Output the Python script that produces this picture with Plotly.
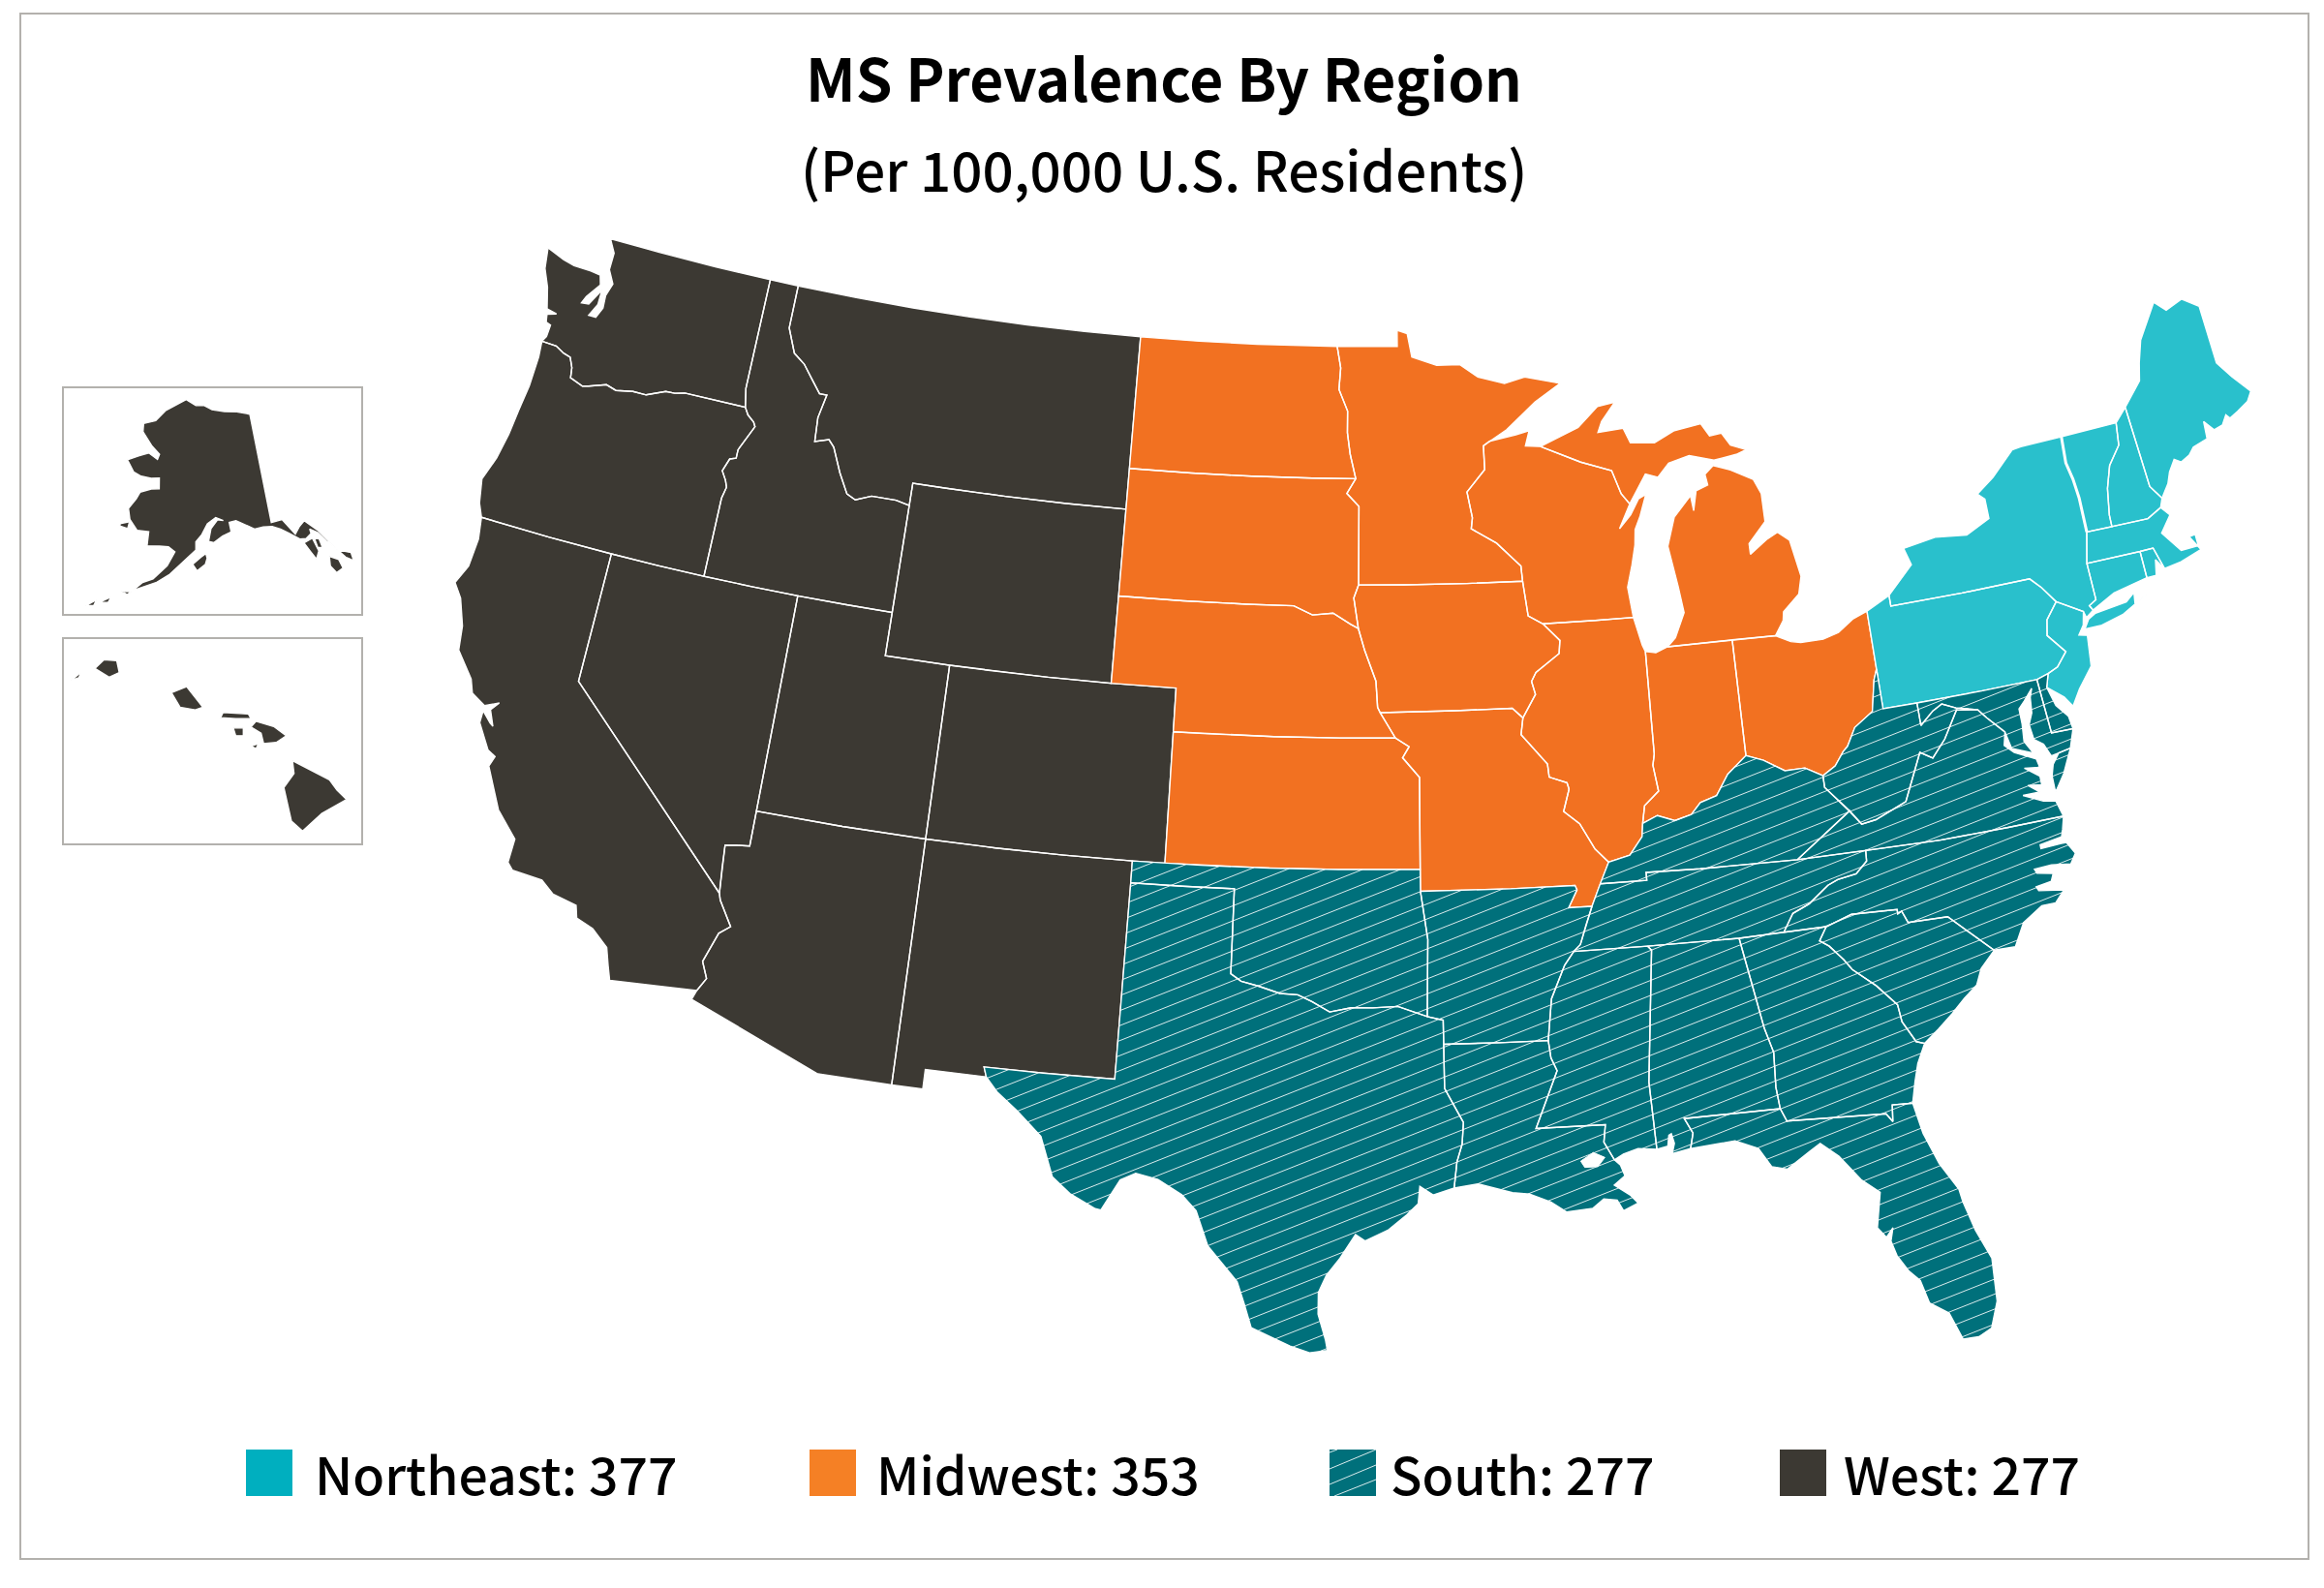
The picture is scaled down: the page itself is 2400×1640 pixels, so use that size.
import numpy as np
import plotly.graph_objects as go

# state outlines are kept as shared borders (lon, lat), so neighbours line up
def r(arc):
    return arc[::-1]

COAST_WA = [(-124.0,46.27),(-123.9,46.4),(-123.88,46.68),(-124.05,46.72),(-124.1,46.9),(-123.8,46.97),(-124.15,47.02),(-124.35,47.5),(-124.62,47.9),(-124.73,48.38),(-124.1,48.22),(-123.7,48.16),(-123.1,48.15),(-122.75,48.12),(-122.65,47.9),(-123.0,47.55),(-123.1,47.38),(-122.85,47.4),(-122.55,47.8),(-122.55,47.45),(-122.75,47.15),(-122.5,47.15),(-122.35,47.4),(-122.38,47.7),(-122.25,48.0),(-122.5,48.3),(-122.5,48.7),(-122.76,49.0)]
N49_WA = [(-122.76,49.0),(-121,49),(-119,49),(-117.04,49)]
WA_ID = [(-117.04,49),(-117.04,47.5),(-117.04,46.42),(-116.92,45.99)]
WA_OR = [(-116.92,45.99),(-118.98,45.99),(-119.3,45.93),(-119.6,45.92),(-120.2,45.73),(-120.65,45.73),(-121.2,45.65),(-121.55,45.72),(-122.1,45.58),(-122.3,45.54),(-122.75,45.65),(-122.8,45.88),(-122.95,46.1),(-123.2,46.15),(-123.5,46.26),(-124.0,46.27)]
COAST_OR = [(-124.0,46.27),(-123.95,45.9),(-123.97,45.2),(-124.07,44.6),(-124.15,44.0),(-124.3,43.4),(-124.55,42.84),(-124.4,42.3),(-124.21,42.0)]
OR_CA = [(-124.21,42),(-122,42),(-120,42)]
OR_NV = [(-120,42),(-118.5,42),(-117.03,42)]
OR_ID = [(-117.03,42),(-117.03,43.83),(-116.95,44.1),(-117.03,44.25),(-117.2,44.45),(-117.05,44.75),(-116.85,44.8),(-116.85,45.0),(-116.67,45.3),(-116.47,45.6),(-116.55,45.7),(-116.78,45.83),(-116.92,45.99)]
CA_NV = [(-120,42),(-120,39),(-114.63,35)]
CA_AZ = [(-114.63,35),(-114.57,34.85),(-114.14,34.3),(-114.43,34.1),(-114.72,33.4),(-114.52,33.03),(-114.72,32.72)]
CA_MEX = [(-114.72,32.72),(-117.12,32.53)]
COAST_CA = [(-117.12,32.53),(-117.25,32.85),(-117.4,33.25),(-117.9,33.6),(-118.4,33.75),(-118.5,34.03),(-119.2,34.15),(-119.6,34.4),(-120.47,34.45),(-120.65,34.6),(-120.63,35.15),(-121.3,35.7),(-121.9,36.6),(-121.8,36.85),(-122.05,36.95),(-122.5,37.5),(-122.5,37.78),(-122.2,37.55),(-122.1,37.5),(-122.3,37.85),(-122.1,38.05),(-122.5,37.9),(-122.95,38.1),(-123.1,38.4),(-123.7,38.95),(-123.8,39.5),(-124.1,40.1),(-124.4,40.4),(-124.15,40.85),(-124.1,41.5),(-124.21,42.0)]
NV_ID = [(-117.03,42),(-115.5,42),(-114.04,42)]
NV_UT = [(-114.04,42),(-114.04,39.5),(-114.04,37)]
NV_AZ = [(-114.04,37),(-114.04,36.19),(-114.4,36.15),(-114.74,36.1),(-114.7,35.6),(-114.63,35)]
UT_AZ = [(-114.04,37),(-111.5,37),(-109.05,37)]
AZ_NM = [(-109.05,37),(-109.05,34),(-109.05,31.33)]
AZ_MEX = [(-109.05,31.33),(-111.07,31.33),(-114.81,32.5),(-114.72,32.72)]
UT_ID = [(-114.04,42),(-112.5,42),(-111.05,42)]
UT_WY = [(-111.05,42),(-111.05,41),(-109.05,41)]
UT_CO = [(-109.05,41),(-109.05,37)]
ID_N = [(-117.04,49),(-116.05,49)]
ID_MT = [(-116.05,49),(-116.05,48.0),(-115.7,47.45),(-115.3,47.25),(-114.95,46.95),(-114.6,46.65),(-114.35,46.65),(-114.5,46.1),(-114.45,45.55),(-114.0,45.65),(-113.8,45.5),(-113.45,44.95),(-113.1,44.5),(-112.8,44.4),(-112.3,44.55),(-111.5,44.55),(-111.05,44.48)]
ID_WY = [(-111.05,44.48),(-111.05,42)]
N49_MT = [(-116.05,49),(-114,49),(-112,49),(-110,49),(-108,49),(-106,49),(-104.05,49)]
MT_ND = [(-104.05,49),(-104.05,45.94)]
MT_SD = [(-104.05,45.94),(-104.05,45)]
MT_WY = [(-104.05,45),(-106,45),(-108,45),(-110,45),(-111.05,45),(-111.05,44.48)]
WY_SD = [(-104.05,45),(-104.05,43)]
WY_NE = [(-104.05,43),(-104.05,41)]
WY_CO = [(-104.05,41),(-106,41),(-108,41),(-109.05,41)]
CO_NE = [(-104.05,41),(-102.05,41),(-102.05,40)]
CO_KS = [(-102.05,40),(-102.05,37)]
CO_OK = [(-102.05,37),(-103,37)]
CO_NM = [(-103,37),(-105,37),(-107,37),(-109.05,37)]
NM_OK = [(-103,37),(-103,36.5)]
NM_TX = [(-103,36.5),(-103.04,32),(-105,32),(-106.62,32),(-106.53,31.78)]
NM_MEX = [(-106.53,31.78),(-108.2,31.78),(-108.2,31.33),(-109.05,31.33)]
N49_ND = [(-104.05,49),(-102,49),(-100,49),(-98,49),(-97.23,49)]
ND_MN = [(-97.23,49),(-97.1,48.5),(-97.15,48.0),(-96.85,47.5),(-96.85,47.0),(-96.75,46.5),(-96.56,45.94)]
ND_SD = [(-96.56,45.94),(-98,45.94),(-100,45.94),(-102,45.94),(-104.05,45.94)]
SD_MN = [(-96.56,45.94),(-96.85,45.6),(-96.45,45.3),(-96.45,43.5)]
SD_IA = [(-96.45,43.5),(-96.6,43.2),(-96.45,42.5)]
SD_NE = [(-96.45,42.5),(-96.7,42.6),(-97.25,42.85),(-97.9,42.8),(-98.5,43),(-100,43),(-102,43),(-104.05,43)]
NE_IA = [(-96.45,42.5),(-96.25,42.0),(-96.1,41.7),(-95.9,41.3),(-95.85,40.7),(-95.77,40.58)]
NE_MO = [(-95.77,40.58),(-95.31,40)]
NE_KS = [(-95.31,40),(-97,40),(-99,40),(-101,40),(-102.05,40)]
KS_MO = [(-95.31,40),(-94.9,39.8),(-95.1,39.55),(-94.6,39.1),(-94.62,37)]
KS_OK = [(-94.62,37),(-97,37),(-99,37),(-101,37),(-102.05,37)]
OK_MO = [(-94.62,37),(-94.62,36.5)]
OK_AR = [(-94.62,36.5),(-94.43,35.4),(-94.48,33.64)]
OK_TX = [(-94.48,33.64),(-95.3,33.88),(-96.0,33.85),(-96.6,33.85),(-97.2,33.75),(-97.7,33.98),(-98.1,34.13),(-98.6,34.15),(-99.2,34.3),(-99.7,34.4),(-100,34.56),(-100,36.5),(-101.5,36.5),(-103,36.5)]
TX_AR = [(-94.48,33.64),(-94.04,33.55),(-94.04,33)]
TX_LA = [(-94.04,33),(-94.04,31.99),(-93.8,31.6),(-93.55,31.2),(-93.6,30.7),(-93.75,30.3),(-93.84,29.7)]
COAST_TX = [(-93.84,29.7),(-94.4,29.55),(-94.75,29.75),(-94.8,29.35),(-95.1,29.1),(-95.6,28.75),(-96.2,28.5),(-96.45,28.65),(-96.85,28.1),(-97.2,27.7),(-97.4,27.3),(-97.4,26.8),(-97.2,26.2),(-97.15,25.96)]
TX_MEX = [(-97.15,25.96),(-97.6,25.9),(-98.1,26.05),(-98.6,26.25),(-99.1,26.45),(-99.3,27.0),(-99.5,27.5),(-100.3,28.3),(-100.65,29.1),(-101.05,29.45),(-101.7,29.77),(-102.3,29.88),(-102.7,29.7),(-103.15,28.98),(-103.3,29.0),(-104.0,29.3),(-104.5,29.65),(-104.9,30.55),(-105.6,31.08),(-106.2,31.47),(-106.53,31.78)]
N_MN = [(-97.23,49),(-95.15,49),(-95.15,49.38),(-94.8,49.3),(-94.65,48.75),(-93.8,48.55),(-93.0,48.55),(-92.4,48.25),(-91.5,48.07),(-90.8,48.2),(-89.6,48.0),(-90.5,47.6),(-91.5,47.0),(-92.1,46.75)]
MN_WI = [(-92.1,46.75),(-92.3,46.65),(-92.29,46.1),(-92.9,45.6),(-92.75,45.0),(-92.8,44.75),(-92.0,44.4),(-91.25,43.85),(-91.22,43.5)]
MN_IA = [(-91.22,43.5),(-93,43.5),(-95,43.5),(-96.45,43.5)]
IA_WI = [(-91.22,43.5),(-91.1,42.7),(-90.65,42.5)]
IA_IL = [(-90.65,42.5),(-90.15,42.1),(-90.2,41.8),(-90.95,41.4),(-91.1,41.2),(-91.0,40.9),(-91.42,40.38)]
IA_MO = [(-91.42,40.38),(-91.73,40.61),(-93.5,40.6),(-95.77,40.58)]
MO_IL = [(-91.42,40.38),(-91.5,40.0),(-90.75,39.3),(-90.72,39.0),(-90.2,38.85),(-90.15,38.7),(-90.35,38.2),(-89.9,37.9),(-89.5,37.3),(-89.13,36.98)]
MO_KY = [(-89.13,36.98),(-89.42,36.5)]
MO_TN = [(-89.42,36.5),(-89.7,36.0)]
MO_AR = [(-89.7,36.0),(-90.37,36.0),(-90.1,36.4),(-90.15,36.5),(-92,36.5),(-94.62,36.5)]
AR_TN = [(-89.7,36.0),(-89.9,35.6),(-90.1,35.15),(-90.3,35.0)]
AR_MS = [(-90.3,35.0),(-90.58,34.7),(-91.0,33.95),(-91.15,33.0)]
AR_LA = [(-91.15,33.0),(-92.5,33.0),(-94.04,33.0)]
LA_MS = [(-91.15,33.0),(-91.1,32.6),(-90.95,32.3),(-91.2,31.8),(-91.6,31.0),(-89.73,31.0),(-89.8,30.6),(-89.55,30.18)]
COAST_LA = [(-89.55,30.18),(-89.4,30.05),(-89.3,29.8),(-89.6,29.6),(-89.2,29.35),(-89.0,29.15),(-89.4,29.0),(-89.55,29.25),(-89.9,29.3),(-90.2,29.1),(-90.9,29.05),(-91.3,29.3),(-91.85,29.5),(-92.3,29.55),(-93.2,29.78),(-93.84,29.7)]
TN_MS = [(-90.3,35),(-88.2,35)]
MS_AL = [(-88.2,35),(-88.1,34.9),(-88.47,31.9),(-88.4,30.35)]
COAST_MS = [(-88.4,30.35),(-88.9,30.4),(-89.3,30.3),(-89.55,30.18)]
TN_AL = [(-88.2,35),(-85.6,34.98)]
AL_GA = [(-85.6,34.98),(-85.18,32.87),(-85.0,32.3),(-85.05,31.5),(-85.0,31.0)]
AL_FL = [(-85.0,31.0),(-87.6,31.0),(-87.4,30.65),(-87.5,30.3)]
COAST_AL = [(-87.5,30.3),(-88.0,30.22),(-87.92,30.45),(-87.98,30.68),(-88.05,30.65),(-88.1,30.4),(-88.4,30.35)]
TN_GA = [(-85.6,34.98),(-84.32,35)]
GA_NC = [(-84.32,35),(-83.11,35)]
GA_SC = [(-83.11,35),(-83.35,34.7),(-83.1,34.55),(-82.75,34.2),(-82.55,33.95),(-81.95,33.5),(-81.45,33.0),(-81.4,32.6),(-81.1,32.1),(-80.88,32.03)]
COAST_GA = [(-80.88,32.03),(-81.15,31.6),(-81.3,31.2),(-81.45,30.72)]
GA_FL = [(-81.45,30.72),(-82.0,30.75),(-82.05,30.37),(-82.2,30.57),(-84.86,30.7),(-85.0,31.0)]
COAST_FL = [(-81.45,30.72),(-81.3,30.0),(-81.0,29.25),(-80.6,28.6),(-80.55,28.3),(-80.35,27.6),(-80.05,26.9),(-80.1,25.9),(-80.35,25.3),(-80.7,25.15),(-81.1,25.15),(-81.35,25.8),(-81.8,26.1),(-81.95,26.65),(-82.2,26.9),(-82.45,27.3),(-82.55,27.65),(-82.45,27.95),(-82.65,27.75),(-82.85,28.0),(-82.65,28.8),(-83.1,29.15),(-83.6,29.75),(-84.05,30.1),(-84.35,29.95),(-85.0,29.6),(-85.4,29.7),(-85.7,30.15),(-86.3,30.38),(-87.2,30.33),(-87.5,30.3)]
NC_SC = [(-83.11,35),(-82.35,35.2),(-81.05,35.15),(-81.05,35.05),(-80.93,35.1),(-80.8,34.82),(-79.67,34.8),(-78.55,33.86)]
COAST_SC = [(-78.55,33.86),(-79.0,33.5),(-79.2,33.15),(-79.6,32.9),(-80.0,32.6),(-80.45,32.3),(-80.88,32.03)]
TN_NC = [(-84.32,35),(-84.0,35.4),(-83.5,35.57),(-82.9,35.93),(-82.6,36.03),(-82.05,36.1),(-81.7,36.35),(-81.68,36.59)]
NC_VA = [(-81.68,36.59),(-79.5,36.55),(-77.5,36.55),(-75.87,36.55)]
COAST_NC = [(-75.87,36.55),(-75.98,36.25),(-76.05,36.1),(-76.7,36.02),(-76.7,35.93),(-76.1,35.95),(-75.95,35.95),(-75.76,35.67),(-75.95,35.45),(-76.5,35.52),(-77.0,35.5),(-76.95,35.4),(-76.5,35.32),(-76.6,35.15),(-77.05,35.1),(-77.0,35.0),(-76.6,34.95),(-76.3,34.9),(-76.6,34.65),(-77.0,34.65),(-77.6,34.35),(-77.95,33.85),(-78.55,33.86)]
KY_TN = [(-89.42,36.5),(-88.07,36.5),(-88.07,36.68),(-86.5,36.65),(-83.68,36.6)]
TN_VA = [(-83.68,36.6),(-81.68,36.59)]
KY_IL = [(-89.13,36.98),(-88.5,37.1),(-88.1,37.5),(-88.05,37.8)]
KY_IN = [(-88.05,37.8),(-87.6,37.95),(-87.1,37.8),(-86.6,37.9),(-86.3,38.15),(-85.8,38.27),(-85.4,38.73),(-84.8,39.1)]
KY_OH = [(-84.8,39.1),(-84.3,38.95),(-83.7,38.65),(-83.1,38.65),(-82.6,38.42)]
KY_WV = [(-82.6,38.42),(-82.6,38.15),(-82.0,37.55),(-81.97,37.54)]
KY_VA = [(-81.97,37.54),(-83.68,36.6)]
IL_WI = [(-87.8,42.5),(-89,42.5),(-90.65,42.5)]
IL_IN = [(-88.05,37.8),(-87.95,38.2),(-87.5,38.5),(-87.6,39.1),(-87.53,39.35),(-87.52,41.7)]
COAST_IL = [(-87.52,41.7),(-87.6,41.85),(-87.8,42.5)]
IN_OH = [(-84.8,39.1),(-84.8,41.76)]
IN_MI = [(-84.8,41.76),(-86.82,41.76)]
COAST_IN = [(-86.82,41.76),(-87.2,41.65),(-87.52,41.7)]
OH_WV = [(-82.6,38.42),(-82.2,38.6),(-81.9,38.9),(-81.75,39.0),(-81.45,39.4),(-80.85,39.7),(-80.65,40.4),(-80.52,40.64)]
OH_PA = [(-80.52,40.64),(-80.52,41.98)]
COAST_OH = [(-80.52,41.98),(-81.0,41.85),(-81.5,41.6),(-82.0,41.5),(-82.7,41.5),(-83.0,41.55),(-83.45,41.73)]
OH_MI = [(-83.45,41.73),(-84.8,41.76)]
COAST_MI = [(-83.45,41.73),(-83.15,42.05),(-83.1,42.25),(-82.55,42.6),(-82.4,43.0),(-82.6,43.85),(-82.95,44.07),(-83.3,43.95),(-83.9,43.65),(-83.9,43.9),(-83.3,44.35),(-83.3,45.0),(-83.5,45.35),(-84.2,45.63),(-84.75,45.78),(-85.05,45.6),(-85.0,45.35),(-85.4,45.25),(-85.55,44.8),(-85.6,45.15),(-86.2,44.7),(-86.5,44.05),(-86.3,43.1),(-86.2,42.5),(-86.55,41.95),(-86.82,41.76)]
UP_SHORE = [(-90.4,46.57),(-89.1,46.95),(-88.4,47.4),(-87.8,47.47),(-88.3,47.05),(-88.45,46.8),(-87.6,46.85),(-87.4,46.5),(-86.6,46.45),(-85.9,46.68),(-85.0,46.77),(-84.75,46.47),(-84.35,46.5),(-84.1,46.2),(-83.6,46.05),(-83.95,45.97),(-84.7,45.9),(-85.5,46.07),(-86.2,45.95),(-86.6,45.65),(-87.0,45.75),(-87.6,45.1)]
MI_WI = [(-87.6,45.1),(-87.85,45.35),(-88.1,45.9),(-89.1,46.15),(-90.4,46.57)]
SUP_WI = [(-92.1,46.75),(-91.2,46.87),(-90.75,46.95),(-90.9,46.6),(-90.4,46.57)]
COAST_WI = [(-87.6,45.1),(-88.0,44.55),(-87.6,44.85),(-87.3,45.2),(-87.05,45.28),(-87.3,44.8),(-87.5,44.5),(-87.55,44.15),(-87.7,43.7),(-87.9,43.2),(-87.8,42.5)]
PA_ERIE = [(-80.52,41.98),(-79.76,42.25)]
NY_PA = [(-79.76,42.25),(-79.76,42.0),(-77.5,42.0),(-75.35,42.0),(-75.05,41.75),(-74.7,41.36)]
PA_NJ = [(-74.7,41.36),(-75.1,41.0),(-75.2,40.65),(-74.75,40.2),(-75.1,39.9),(-75.42,39.8)]
DE_PA = [(-75.42,39.8),(-75.79,39.72)]
MD_PA = [(-75.79,39.72),(-77.5,39.72),(-79.48,39.72)]
PA_WV = [(-79.48,39.72),(-80.52,39.72),(-80.52,40.64)]
COAST_NY = [(-79.76,42.25),(-78.9,42.85),(-79.05,43.25),(-78.0,43.37),(-77.0,43.28),(-76.2,43.55),(-76.2,44.0),(-76.4,44.15),(-75.8,44.45),(-75.0,44.97),(-74.7,45.0),(-73.34,45.01)]
NY_VT = [(-73.34,45.01),(-73.4,44.4),(-73.3,44.0),(-73.25,43.55),(-73.27,42.75)]
NY_MA = [(-73.27,42.75),(-73.5,42.05)]
NY_CT = [(-73.5,42.05),(-73.49,41.2),(-73.73,41.1),(-73.65,40.98)]
NY_HUDSON = [(-73.65,40.98),(-73.9,40.85),(-73.95,41.0)]
NY_NJ = [(-73.95,41.0),(-74.7,41.36)]
NJ_BAY = [(-75.42,39.8),(-75.55,39.5),(-75.1,39.2),(-74.9,38.95)]
COAST_NJ = [(-74.9,38.95),(-74.6,39.3),(-74.1,39.75),(-74.0,40.45),(-74.25,40.5),(-74.05,40.7),(-73.95,41.0)]
DE_COAST = [(-75.42,39.8),(-75.55,39.5),(-75.4,39.05),(-75.1,38.75),(-75.05,38.45)]
DE_MD = [(-75.05,38.45),(-75.7,38.46),(-75.79,39.72)]
MD_COAST = [(-75.05,38.45),(-75.25,38.03),(-75.62,37.98),(-75.85,37.95),(-76.0,38.25),(-76.25,38.4),(-76.3,38.75),(-76.15,39.0),(-76.1,39.35),(-76.0,39.55),(-76.3,39.3),(-76.5,39.15),(-76.5,38.8),(-76.55,38.4),(-76.35,38.1)]
MD_POT = [(-76.35,38.1),(-76.95,38.3),(-77.05,38.7)]
MD_VA = [(-77.05,38.7),(-77.5,39.1),(-77.72,39.32)]
VA_POT = [(-77.05,38.7),(-77.15,38.4),(-76.9,38.2),(-76.3,37.95)]
MD_WV = [(-77.72,39.32),(-78.35,39.45),(-78.75,39.6),(-79.05,39.48),(-79.48,39.2),(-79.48,39.72)]
VA_WV = [(-77.72,39.32),(-78.35,39.4),(-78.85,38.8),(-79.3,38.42),(-79.65,38.6),(-80.3,37.55),(-81.25,37.25),(-81.68,37.2),(-81.97,37.54)]
VA_COAST = [(-76.3,37.95),(-76.25,37.75),(-76.7,37.8),(-76.3,37.55),(-76.3,37.35),(-76.7,37.4),(-76.4,37.2),(-76.9,37.2),(-76.35,36.98),(-76.0,36.93),(-75.87,36.55)]
VA_SHORE = [(-75.62,37.98),(-75.25,38.03),(-75.6,37.5),(-75.95,37.12),(-75.95,37.5),(-75.85,37.75)]
CT_MA = [(-73.5,42.05),(-71.8,42.02)]
CT_RI = [(-71.8,42.02),(-71.8,41.4)]
COAST_CT = [(-71.8,41.4),(-72.9,41.25),(-73.65,40.98)]
RI_MA = [(-71.8,42.02),(-71.38,42.02),(-71.2,41.5)]
COAST_RI = [(-71.2,41.5),(-71.4,41.75),(-71.5,41.4),(-71.8,41.4)]
VT_MA = [(-73.27,42.75),(-72.46,42.73)]
NH_MA = [(-72.46,42.73),(-71.3,42.7),(-70.82,42.87)]
COAST_MA = [(-70.82,42.87),(-70.6,42.65),(-71.0,42.3),(-70.55,41.8),(-70.0,41.8),(-70.0,42.07),(-70.2,42.05),(-69.95,41.7),(-70.65,41.55),(-71.2,41.5)]
VT_N = [(-73.34,45.01),(-71.5,45.01)]
VT_NH = [(-71.5,45.01),(-71.6,44.5),(-72.05,44.1),(-72.3,43.6),(-72.45,43.0),(-72.46,42.73)]
NH_N = [(-71.5,45.01),(-71.08,45.3)]
NH_ME = [(-71.08,45.3),(-70.98,43.4),(-70.7,43.07)]
NH_COAST = [(-70.7,43.07),(-70.82,42.87)]
ME_OUT = [(-71.08,45.3),(-70.4,45.8),(-70.25,46.2),(-70.0,46.7),(-69.23,47.46),(-68.9,47.2),(-68.3,47.35),(-67.8,47.07),(-67.8,45.7),(-67.45,45.3),(-67.0,44.85),(-67.2,44.65),(-67.6,44.5),(-67.9,44.4),(-68.0,44.5),(-68.2,44.3),(-68.5,44.25),(-68.75,44.5),(-68.8,44.1),(-69.05,44.05),(-69.3,44.0),(-69.5,43.85),(-69.8,43.75),(-70.0,43.85),(-70.25,43.6),(-70.4,43.35),(-70.7,43.07)]
LONG_ISLAND = [(-74.03,40.6),(-73.5,40.6),(-72.8,40.72),(-71.9,41.05),(-72.35,40.9),(-72.3,41.15),(-72.6,40.98),(-73.6,40.9),(-73.85,40.8)]
PONTCHARTRAIN = [(-90.45,30.2),(-90.1,30.38),(-89.8,30.25),(-90.0,30.05),(-90.35,30.05)]

WA = COAST_WA + N49_WA + WA_ID + WA_OR
OR = WA_OR + COAST_OR + OR_CA + OR_NV + OR_ID
CA = OR_CA + CA_NV + CA_AZ + CA_MEX + COAST_CA
NV = OR_NV + NV_ID + NV_UT + NV_AZ + r(CA_NV)
AZ = UT_AZ + AZ_NM + AZ_MEX + r(CA_AZ) + r(NV_AZ)
UT = UT_ID + UT_WY + UT_CO + r(UT_AZ) + r(NV_UT)
ID = r(WA_ID) + ID_N + ID_MT + ID_WY + r(UT_ID) + r(NV_ID) + OR_ID
MT = N49_MT + MT_ND + MT_SD + MT_WY + r(ID_MT)
WY = r(MT_WY) + WY_SD + WY_NE + WY_CO + r(UT_WY) + r(ID_WY)
CO = r(WY_CO) + CO_NE + CO_KS + CO_OK + CO_NM + r(UT_CO)
NM = r(CO_NM) + NM_OK + NM_TX + NM_MEX + r(AZ_NM)
ND = N49_ND + ND_MN + ND_SD + r(MT_ND)
SD = r(ND_SD) + SD_MN + SD_IA + SD_NE + r(WY_SD) + r(MT_SD)
NE = r(SD_NE) + NE_IA + NE_MO + NE_KS + r(CO_NE) + r(WY_NE)
KS = r(NE_KS) + KS_MO + KS_OK + r(CO_KS)
OK = r(CO_OK) + r(KS_OK) + OK_MO + OK_AR + OK_TX + r(NM_OK)
TX = r(OK_TX) + TX_AR + TX_LA + COAST_TX + TX_MEX + r(NM_TX)
MN = N_MN + MN_WI + MN_IA + r(SD_MN) + r(ND_MN)
IA = r(MN_IA) + IA_WI + IA_IL + IA_MO + r(NE_IA) + r(SD_IA)
MO = r(IA_MO) + MO_IL + MO_KY + MO_TN + MO_AR + r(OK_MO) + r(KS_MO) + r(NE_MO)
AR = r(MO_AR) + AR_TN + AR_MS + AR_LA + r(TX_AR) + r(OK_AR)
LA = r(AR_LA) + LA_MS + COAST_LA + r(TX_LA)
MS = TN_MS + MS_AL + COAST_MS + r(LA_MS) + r(AR_MS)
AL = TN_AL + AL_GA + AL_FL + COAST_AL + r(MS_AL)
GA = TN_GA + GA_NC + GA_SC + COAST_GA + GA_FL + r(AL_GA)
FL = r(AL_FL) + r(GA_FL) + COAST_FL
SC = NC_SC + COAST_SC + r(GA_SC)
NC = r(GA_NC) + TN_NC + NC_VA + COAST_NC + r(NC_SC)
TN = KY_TN + TN_VA + r(TN_NC) + r(TN_GA) + r(TN_AL) + r(TN_MS) + r(AR_TN) + r(MO_TN)
KY = r(MO_KY) + KY_IL + KY_IN + KY_OH + KY_WV + KY_VA + r(KY_TN)
IL = IL_WI + IA_IL + MO_IL + KY_IL + IL_IN + COAST_IL
IN = r(IL_IN) + KY_IN + IN_OH + IN_MI + COAST_IN
OH = r(IN_OH) + KY_OH + OH_WV + OH_PA + COAST_OH + OH_MI
MI_LOWER = r(IN_MI) + r(OH_MI) + COAST_MI
MI_UPPER = UP_SHORE + MI_WI
WI = SUP_WI + r(MI_WI) + COAST_WI + IL_WI + r(IA_WI) + r(MN_WI)
PA = PA_ERIE + NY_PA + PA_NJ + DE_PA + MD_PA + PA_WV + r(OH_PA)
NY = r(NY_PA) + COAST_NY + NY_VT + NY_MA + NY_CT + NY_HUDSON + NY_NJ
NJ = r(NY_NJ) + PA_NJ + NJ_BAY + COAST_NJ
DE = r(DE_PA) + DE_COAST + DE_MD
MD = r(MD_PA) + r(DE_MD) + MD_COAST + MD_POT + MD_VA + MD_WV
WV = r(MD_WV) + VA_WV + r(KY_WV) + OH_WV + r(PA_WV)
VA = r(TN_VA) + r(KY_VA) + r(VA_WV) + r(MD_VA) + VA_POT + VA_COAST + r(NC_VA)
CT = CT_MA + CT_RI + COAST_CT + r(NY_CT)
RI = RI_MA + COAST_RI + r(CT_RI)
MA = VT_MA + NH_MA + COAST_MA + r(RI_MA) + r(CT_MA) + r(NY_MA)
VT = VT_N + VT_NH + r(VT_MA) + r(NY_VT)
NH = r(VT_NH) + NH_N + NH_ME + NH_COAST + r(NH_MA)
ME = ME_OUT + r(NH_ME)

WEST_STATES = [WA, OR, CA, NV, AZ, UT, ID, MT, WY, CO, NM]
MIDWEST_STATES = [ND, SD, NE, KS, MN, IA, MO, WI, IL, IN, OH, MI_LOWER, MI_UPPER]
SOUTH_STATES = [OK, TX, AR, LA, MS, AL, GA, FL, SC, NC, TN, KY, WV, VA, VA_SHORE, MD, DE]
NORTHEAST_STATES = [PA, NY, LONG_ISLAND, NJ, CT, RI, MA, VT, NH, ME]

ALASKA = [
    [(-141,69.65),(-141,60.3),(-139.1,60.35),(-137.5,58.9),(-136.5,59.45),(-135.5,59.8),(-133.8,58.7),(-131.8,56.6),(-130.0,56.0),(-130.05,55.3),(-131.0,55.8),(-132.0,56.8),(-133.0,57.6),(-133.9,58.5),(-135.0,59.0),(-135.0,58.6),(-136.0,58.3),(-137.0,58.4),(-138.5,59.1),(-139.7,59.6),(-141,59.95),(-142.5,60.05),(-144.0,60.0),(-145.5,60.45),(-147,60.9),(-148.2,60.8),(-148.0,60.0),(-149.5,59.7),(-151.0,59.2),(-151.9,59.3),(-151.4,60.4),(-150.2,61.1),(-149.2,61.0),(-150.5,61.3),(-152,60.8),(-153.0,59.9),(-154.0,59.3),(-154.0,58.6),(-156.0,57.6),(-158.0,56.5),(-160.0,55.7),(-162.5,55.0),(-163.3,54.8),(-162.0,55.6),(-160.5,56.0),(-158.5,57.2),(-157.4,58.4),(-158.5,58.8),(-160.0,58.8),(-162.0,58.7),(-162.0,59.9),(-164.0,59.9),(-165.5,60.7),(-166.1,61.6),(-165.0,62.5),(-164.5,63.1),(-162.5,63.5),(-161.0,63.6),(-161.2,64.5),(-162.8,64.4),(-164.8,64.45),(-166.4,64.7),(-168.1,65.6),(-166.0,66.1),(-164.0,66.5),(-162.0,66.05),(-161.7,66.5),(-163.5,67.1),(-166.0,68.2),(-166.2,68.9),(-163.5,69.3),(-161.5,70.25),(-159.0,70.85),(-156.5,71.35),(-154.0,70.85),(-152.0,70.85),(-150.0,70.45),(-147.0,70.2),(-144.0,70.05)],
    [(-152.4,58.3),(-153.2,58.0),(-154.5,57.4),(-153.8,56.85),(-152.5,57.4),(-152.2,57.9)],
    [(-167,60.2),(-165.5,60.5),(-165.6,59.9),(-167,60)],
    [(-164.9,54.6),(-163.5,54.7),(-164,54.4)],
    [(-167.8,53.3),(-166.2,54.0),(-166.5,53.5)],
    [(-169.5,52.8),(-168.2,53.5),(-168.4,53.0)],
    [(-133.3,56.3),(-132.1,55.8),(-131.9,55.0),(-133.0,54.8),(-133.6,55.5)],
    [(-136.5,58.0),(-135,58.2),(-134.6,57.0),(-135.3,56.4),(-135.9,57.2)],
    [(-134.7,58.1),(-134.0,58.0),(-133.9,57.2),(-134.6,57.3)],
]
HAWAII = [
    [(-155.88,20.27),(-155.6,20.13),(-155.15,19.9),(-155.0,19.7),(-154.81,19.52),(-155.3,19.25),(-155.68,18.91),(-155.9,19.1),(-156.05,19.75),(-155.85,20.02)],
    [(-156.7,20.92),(-156.6,21.03),(-156.25,20.93),(-156.0,20.75),(-156.2,20.62),(-156.45,20.6),(-156.5,20.8)],
    [(-157.05,20.9),(-156.85,20.9),(-156.85,20.75),(-157.0,20.75)],
    [(-157.3,21.1),(-157.25,21.2),(-156.75,21.17),(-156.7,21.08),(-157.0,21.08)],
    [(-156.7,20.55),(-156.55,20.6),(-156.6,20.5)],
    [(-158.27,21.58),(-157.97,21.7),(-157.65,21.3),(-157.8,21.25),(-158.1,21.3)],
    [(-159.78,22.05),(-159.6,22.22),(-159.35,22.2),(-159.3,21.97),(-159.5,21.88)],
    [(-160.25,21.82),(-160.05,21.98),(-160.1,21.87)],
]

LEGEND_LABELS = ["Northeast: 377", "Midwest: 353", "South: 277", "West: 277"]
LEGEND_COLORS = ["#00afbf", "#f58025", "#00707b", "#3c3933"]
LEGEND_SWATCH_X = [254, 836, 1373, 1838]
LEGEND_TEXT_X = [323, 903, 1434, 1902]
SWATCH_HATCH = [(1373, 1500, 1381, 1497), (1373, 1517, 1421, 1497), (1373, 1533, 1421, 1513), (1378, 1545, 1421, 1528)]

COL_NE = "#29c0cc"
COL_MW = "#f27121"
COL_S = "#00707b"
COL_W = "#3c3933"
FRAME = "#b3b1ad"
FONT = "Noto Sans CJK SC Medium, Noto Sans CJK SC"
W, H = 2400, 1640


def albers(points, lon0, lat0, p1, p2):
    lon, lat = np.radians(np.array(points, dtype=float)).T
    p1, p2, lat0, lon0 = np.radians([p1, p2, lat0, lon0])
    n = (np.sin(p1) + np.sin(p2)) / 2
    c = np.cos(p1) ** 2 + 2 * n * np.sin(p1)
    rho0 = np.sqrt(c - 2 * n * np.sin(lat0)) / n
    rho = np.sqrt(c - 2 * n * np.sin(lat)) / n
    theta = n * (lon - lon0)
    return rho * np.sin(theta), rho0 - rho * np.cos(theta)


def conus(points):
    return albers(points, -96, 37.5, 29.5, 45.5)


def alaska(points):
    return albers(points, -154, 50, 55, 65)


def join_rings(rings, proj):
    xs, ys = [], []
    for ring in rings:
        x, y = proj(ring)
        xs += list(x) + [x[0], None]
        ys += list(y) + [y[0], None]
    return xs, ys


def hatch(rings, proj, angle_deg, spacing, phase):
    # white diagonal lines clipped to each polygon, even-odd along the line
    a = np.radians(angle_deg)
    ca, sa = np.cos(a), np.sin(a)
    xs, ys = [], []
    for ring in rings:
        x, y = proj(ring)
        u = ca * x + sa * y
        v = -sa * x + ca * y
        u2, v2 = np.roll(u, -1), np.roll(v, -1)
        steps = np.arange(np.floor((v.min() - phase) / spacing), np.ceil((v.max() - phase) / spacing))
        for c in steps * spacing + phase:
            hit = (v <= c) != (v2 <= c)
            if not hit.any():
                continue
            cuts = np.sort(u[hit] + (c - v[hit]) / (v2[hit] - v[hit]) * (u2[hit] - u[hit]))
            for left, right in zip(cuts[::2], cuts[1::2]):
                xs += [ca * left - sa * c, ca * right - sa * c, None]
                ys += [sa * left + ca * c, sa * right + ca * c, None]
    return xs, ys


def px(x):
    return x / W


def py(y):
    return 1 - y / H


SCALE = 2571.0
CX, CY = 1417.6, 875.6
AK_SCALE = 700.0
AK_CX, AK_CY = 202.3, 673.0
HI_SCALE = 52.3
HI_Y_SCALE = 53.5

fig = go.Figure()


def add_region(rings, name, color, proj=conus, xaxis="x", yaxis="y"):
    xs, ys = join_rings(rings, proj)
    fig.add_trace(go.Scatter(x=xs, y=ys, mode="lines", fill="toself", fillcolor=color, name=name,
                             line=dict(color="white", width=1.4), hoverinfo="name", showlegend=False,
                             xaxis=xaxis, yaxis=yaxis))


add_region(WEST_STATES, "West", COL_W)
add_region(MIDWEST_STATES, "Midwest", COL_MW)
add_region(NORTHEAST_STATES, "Northeast", COL_NE)
add_region(SOUTH_STATES, "South", COL_S)

hx, hy = hatch(SOUTH_STATES, conus, 21.6, 14.4 / SCALE, -0.0794)
fig.add_trace(go.Scatter(x=hx, y=hy, mode="lines", line=dict(color="rgba(255,255,255,0.85)", width=1),
                         hoverinfo="skip", showlegend=False))

lx, ly = join_rings([PONTCHARTRAIN], conus)
fig.add_trace(go.Scatter(x=lx, y=ly, mode="lines", fill="toself", fillcolor="white", line=dict(color="white", width=1),
                         hoverinfo="skip", showlegend=False))

# Lake Champlain and the upper Hudson read as a heavier white border
cx_, cy_ = conus(NY_VT)
fig.add_trace(go.Scatter(x=cx_, y=cy_, mode="lines", line=dict(color="white", width=3),
                         hoverinfo="skip", showlegend=False))

add_region(ALASKA, "West", COL_W, alaska, "x2", "y2")
add_region(HAWAII, "West", COL_W, lambda pts: np.array(pts, dtype=float).T, "x3", "y3")

shapes = []
for x0, color in zip(LEGEND_SWATCH_X, LEGEND_COLORS):
    shapes.append(dict(type="rect", xref="paper", yref="paper", x0=px(x0), x1=px(x0 + 48), y0=py(1545), y1=py(1497),
                       fillcolor=color, line_width=0))
for x0, y0, x1, y1 in SWATCH_HATCH:
    shapes.append(dict(type="line", xref="paper", yref="paper", x0=px(x0), y0=py(y0), x1=px(x1), y1=py(y1),
                       line=dict(color="rgba(255,255,255,0.85)", width=1)))

annotations = [dict(text="(Per 100,000 U.S. Residents)", x=px(1202), y=py(173), xref="paper", yref="paper",
                    xanchor="center", yanchor="middle", showarrow=False,
                    font=dict(family=FONT, size=56.5, color="black"))]
for x0, label in zip(LEGEND_TEXT_X, LEGEND_LABELS):
    annotations.append(dict(text=label, x=px(x0), y=py(1520), xref="paper", yref="paper", xanchor="left",
                            yanchor="middle", showarrow=False,
                            font=dict(family=FONT, size=53.5, color="black")))


def frame_axis(domain, rng, anchor):
    return dict(domain=domain, range=rng, anchor=anchor, showline=True, mirror=True, linecolor=FRAME, linewidth=2,
                showticklabels=False, ticks="", showgrid=False, zeroline=False, fixedrange=True)


L, R, T, B = 22, 2383, 15, 1609
fig.update_layout(
    width=W, height=H, margin=dict(l=0, r=0, t=0, b=0), paper_bgcolor="white", plot_bgcolor="white",
    showlegend=False, shapes=shapes, annotations=annotations,
    title=dict(text="MS Prevalence By Region", x=px(1202), xanchor="center", y=py(84), yanchor="middle",
               font=dict(family="Noto Sans CJK SC", size=60.5, color="black", weight=700)),
    xaxis=frame_axis([px(L), px(R)], [(L - CX) / SCALE, (R - CX) / SCALE], "y"),
    yaxis=frame_axis([py(B), py(T)], [(CY - B) / SCALE, (CY - T) / SCALE], "x"),
    xaxis2=frame_axis([px(66), px(373)], [(66 - AK_CX) / AK_SCALE, (373 - AK_CX) / AK_SCALE], "y2"),
    yaxis2=frame_axis([py(634), py(401)], [(AK_CY - 634) / AK_SCALE, (AK_CY - 401) / AK_SCALE], "x2"),
    xaxis3=frame_axis([px(66), px(373)], [-154.81 - (358 - 66) / HI_SCALE, -154.81 + (373 - 358) / HI_SCALE], "y3"),
    yaxis3=frame_axis([py(871), py(660)], [18.91 - (871 - 858.3) / HI_Y_SCALE, 18.91 + (858.3 - 660) / HI_Y_SCALE], "x3"),
)

fig.write_html("out.html", config=dict(displayModeBar=False), post_script="document.body.style.margin = '0';")
